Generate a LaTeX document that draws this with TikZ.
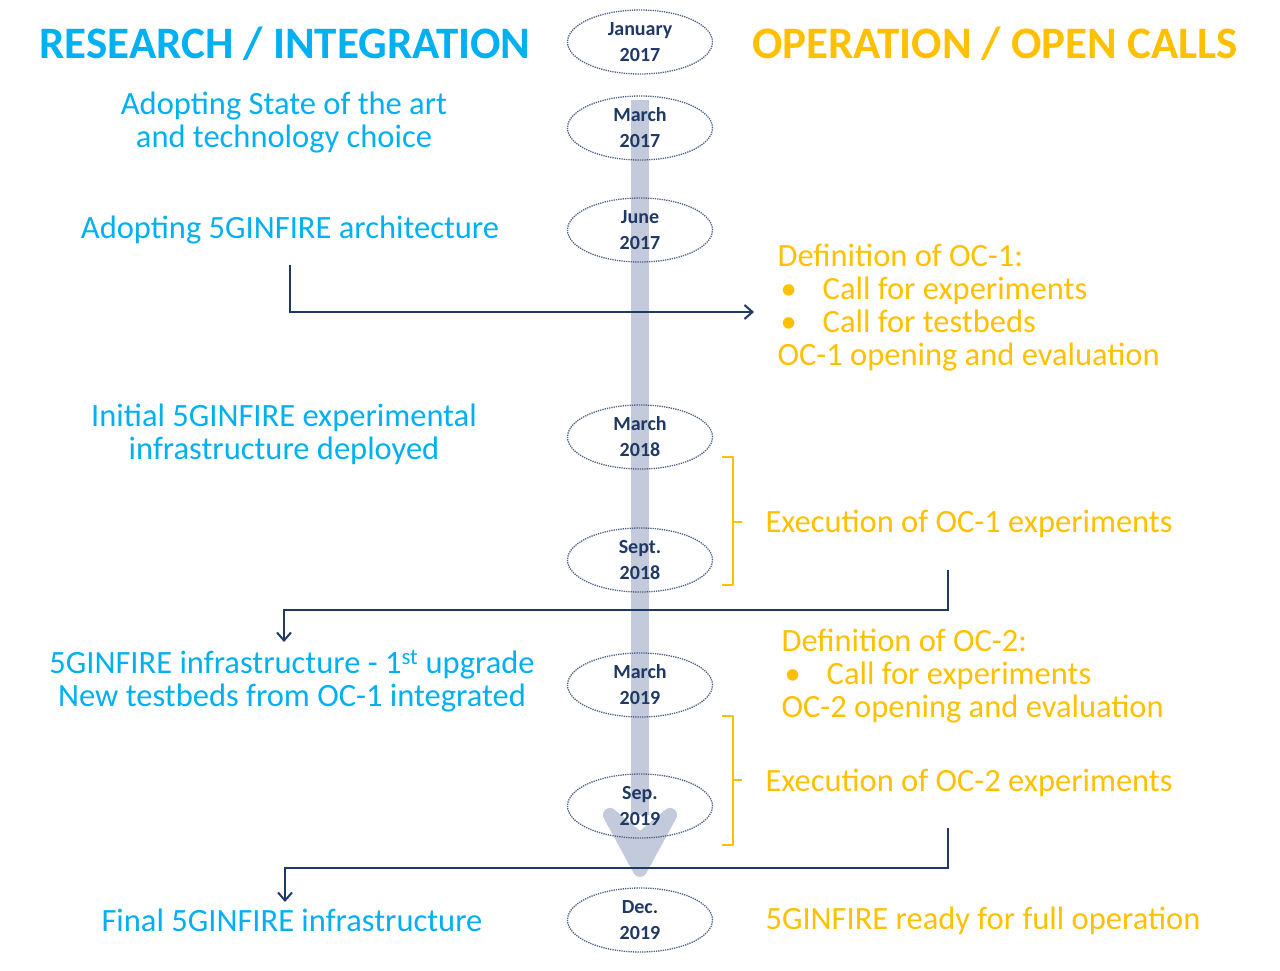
\documentclass[tikz,border=0pt]{standalone}
\usepackage{fontspec}
\setmainfont{Carlito}
\usetikzlibrary{arrows.meta,shapes.geometric}
\definecolor{cb}{HTML}{00B0F0}
\definecolor{co}{HTML}{FFC000}
\definecolor{nv}{HTML}{1F3864}
\definecolor{ag}{HTML}{C3CADB}
\begin{document}
\begin{tikzpicture}[x=1pt,y=-1pt,
 date/.style={draw=nv!80,densely dotted,line width=1.3pt,ellipse,minimum width=145pt,minimum height=64pt,align=center,font=\fontsize{20}{26}\selectfont\bfseries,text=nv,inner sep=0pt},
 lt/.style={text=cb,font=\fontsize{32.5}{33}\selectfont,align=center},
 rt/.style={text=co,font=\fontsize{32.5}{33}\selectfont,align=left,anchor=west},
 ttl/.style={font=\fontsize{45}{50}\selectfont\bfseries},
 con/.style={nv,line width=2pt,-{Straight Barb[length=8pt,width=14pt,line width=2pt]}},
 br/.style={co,line width=2pt,line join=round}]
\useasboundingbox (0,0) rectangle (1280,971);
\fill[ag] (631,100) rectangle (649,815);
\fill[ag,line join=round,draw=ag,line width=14pt] (610,815) -- (640,870) -- (670,815) -- (640,840) -- cycle;
\node[ttl,text=cb] (t1) at (285,44) {RESEARCH / INTEGRATION};
\node[ttl,text=co] (t2) at (995,44) {OPERATION / OPEN CALLS};
\node[date] (d1) at (640,42) {January\\2017};
\node[date] (d2) at (640,128) {March\\2017};
\node[date] (d3) at (640,230) {June\\2017};
\node[date] (d4) at (640,437) {March\\2018};
\node[date] (d5) at (640,560) {Sept.\\2018};
\node[date] (d6) at (640,685) {March\\2019};
\node[date] (d7) at (640,806) {Sep.\\2019};
\node[date] (d8) at (640,920) {Dec.\\2019};
\node[lt] (l1) at (284,123) {Adopting State of the art\\and technology choice};
\node[lt] (l2) at (290,230) {Adopting 5GINFIRE architecture};
\node[lt] (l3) at (284,434) {Initial 5GINFIRE experimental\\infrastructure deployed};
\node[lt] (l4) at (292,681) {5GINFIRE infrastructure - 1\textsuperscript{st} upgrade\\New testbeds from OC-1 integrated};
\node[lt] (l5) at (292,920) {Final 5GINFIRE infrastructure};
\node[rt] (r1) at (774,308) {Definition of OC-1:\\\hspace*{3pt}•\hspace{26pt}Call for experiments\\\hspace*{3pt}•\hspace{26pt}Call for testbeds\\OC-1 opening and evaluation};
\node[rt] (r2) at (762,524) {Execution of OC-1 experiments};
\node[rt] (r3) at (778,676) {Definition of OC-2:\\\hspace*{3pt}•\hspace{26pt}Call for experiments\\OC-2 opening and evaluation};
\node[rt] (r4) at (762,783) {Execution of OC-2 experiments};
\node[rt] (r5) at (762,921) {5GINFIRE ready for full operation};
\coordinate (a1) at (290,265); \coordinate (a2) at (754,312);
\draw[con] (a1) |- (a2);
\coordinate (b1) at (948,570); \coordinate (b2) at (284,642);
\draw[con] (b1) -- (948,610) -| (b2);
\coordinate (c1) at (948,828); \coordinate (c2) at (285,902);
\draw[con] (c1) -- (948,868) -| (c2);
\draw[br] (722,457) -- (733,457) -- (733,585) -- (722,585) (733,522) -- (742,522);
\draw[br] (722,716) -- (733,716) -- (733,845) -- (722,845) (733,780) -- (742,780);
\end{tikzpicture}
\end{document}
